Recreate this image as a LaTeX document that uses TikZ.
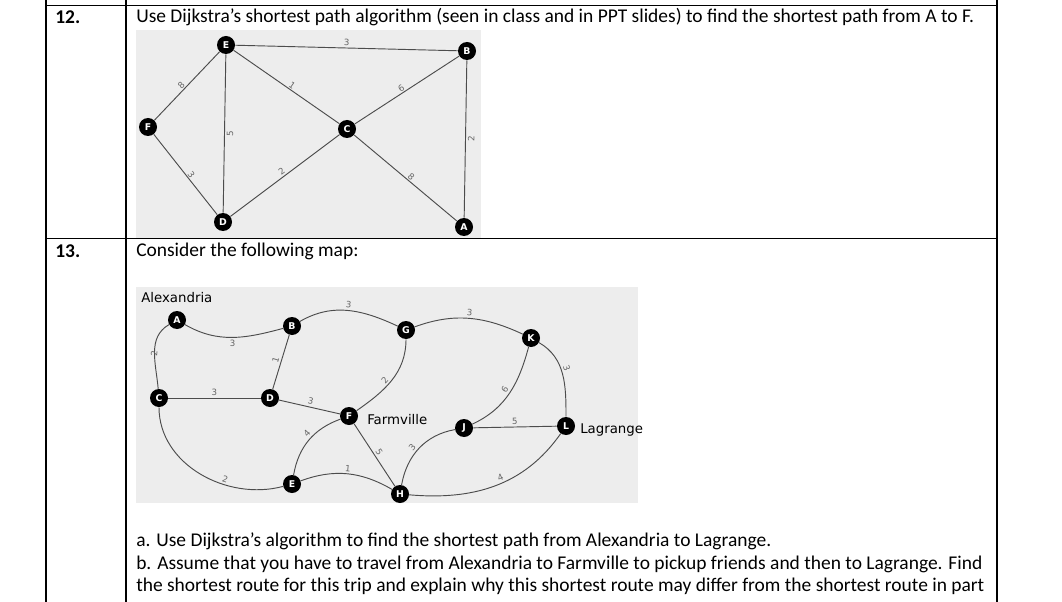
\documentclass[tikz,border=0pt]{standalone}
\usepackage{fontspec}
\setmainfont{Carlito}
\newfontfamily\lblfont{DejaVu Sans}
\newfontfamily\comic{DejaVu Sans}
\begin{document}
\begin{tikzpicture}[x=0.75pt,y=-0.75pt,
  v/.style={circle,fill=black,inner sep=0pt,minimum size=13.5pt,text=white,font=\lblfont\bfseries\fontsize{7}{7}\selectfont},
  e/.style={draw=black!70,line width=0.7pt},
  w/.style={font=\lblfont\fontsize{6.5}{6.5}\selectfont,text=black!60,inner sep=1.5pt,sloped},
  txt/.style={anchor=west,inner sep=0pt,font=\fontsize{14.6}{17}\selectfont},
  num/.style={anchor=west,inner sep=0pt,font=\bfseries\fontsize{14.6}{17}\selectfont},
  city/.style={font=\comic\fontsize{10}{11}\selectfont,inner sep=0pt}]
\useasboundingbox (0,0) rectangle (1062,602);
\fill[white] (0,0) rectangle (1062,602);
% table
\draw[line width=0.9pt] (46,0) -- (46,602) (126,0) -- (126,602) (997,0) -- (997,602);
\draw[line width=0.7pt] (46,5) -- (997,5) (46,238) -- (997,238);
\node[num] (n12) at (55,17) {12.};
\node[num] (n13) at (55,251) {13.};
\node[txt] (q12) at (136,17) {Use Dijkstra’s shortest path algorithm (seen in class and in PPT slides) to find the shortest path from A to F.};
\node[txt] (q13) at (136,251) {Consider the following map:};
\node[txt] (qa) at (136,541) {a. Use Dijkstra’s algorithm to find the shortest path from Alexandria to Lagrange.};
\node[txt] (qb) at (136,564) {b. Assume that you have to travel from Alexandria to Farmville to pickup friends and then to Lagrange. Find};
\node[txt] (qc) at (136,586) {the shortest route for this trip and explain why this shortest route may differ from the shortest route in part};
% graph 1
\fill[black!7] (136,30) rectangle (481,238);
\node[v] (E) at (226,45) {E};
\node[v] (B) at (467,51) {B};
\node[v] (F) at (148,127) {F};
\node[v] (C) at (347,129) {C};
\node[v] (D) at (223,222) {D};
\node[v] (A) at (464,227) {A};
\draw[e] (E) -- node[w,above]{3} (B);
\draw[e] (F) -- node[w,above left=-1pt]{8} (E);
\draw[e] (E) -- node[w,above right=-1pt]{1} (C);
\draw[e] (C) -- node[w,above left=-1pt]{6} (B);
\draw[e] (E) -- node[w,below]{5} (D);
\draw[e] (B) -- node[w,below]{2} (A);
\draw[e] (F) -- node[w,above right=-1pt]{3} (D);
\draw[e] (D) -- node[w,above]{2} (C);
\draw[e] (C) -- node[w,above right=-1pt]{8} (A);
% graph 2
\fill[black!7] (136,287) rectangle (638,503);
\node[v] (mA) at (177,320) {A};
\node[v] (mB) at (292,326) {B};
\node[v] (mG) at (406,330) {G};
\node[v] (mK) at (531,338) {K};
\node[v] (mC) at (159,398) {C};
\node[v] (mD) at (270,398) {D};
\node[v] (mF) at (349,416) {F};
\node[v] (mJ) at (464,428) {J};
\node[v] (mL) at (566,426) {L};
\node[v] (mE) at (292,484) {E};
\node[v] (mH) at (400,494) {H};
\node[city,anchor=west] (alex) at (141,298) {Alexandria};
\node[city,anchor=west] (farm) at (367,420) {Farmville};
\node[city,anchor=west] (lag) at (580,430) {Lagrange};
\draw[e] (mA) to[out=-30,in=195] node[w,below,pos=0.5]{3} (mB);
\draw[e] (mA) to[out=210,in=95] node[w,left,pos=0.45]{2} (mC);
\draw[e] (mB) to[out=30,in=155] node[w,above]{3} (mG);
\draw[e] (mG) to[out=20,in=155] node[w,above]{3} (mK);
\draw[e] (mK) to[out=-30,in=90] node[w,above,pos=0.45]{3} (mL);
\draw[e] (mB) -- node[w,above]{1} (mD);
\draw[e] (mC) -- node[w,above]{3} (mD);
\draw[e] (mD) -- node[w,above]{3} (mF);
\draw[e] (mG) to[out=-90,in=35] node[w,above,pos=0.55]{2} (mF);
\draw[e] (mK) to[out=-105,in=25] node[w,above,pos=0.5]{6} (mJ);
\draw[e] (mJ) -- node[w,above]{5} (mL);
\draw[e] (mF) to[out=200,in=80] node[w,above,pos=0.45]{4} (mE);
\draw[e] (mF) -- node[w,above]{5} (mH);
\draw[e] (mE) to[out=20,in=150] node[w,above,pos=0.5]{1} (mH);
\draw[e] (mC) to[out=-90,in=195] node[w,above,pos=0.65]{2} (mE);
\draw[e] (mH) to[out=80,in=190] node[w,above,pos=0.45]{3} (mJ);
\draw[e] (mH) to[out=-5,in=-125] node[w,above,pos=0.55]{4} (mL);
\end{tikzpicture}
\end{document}
